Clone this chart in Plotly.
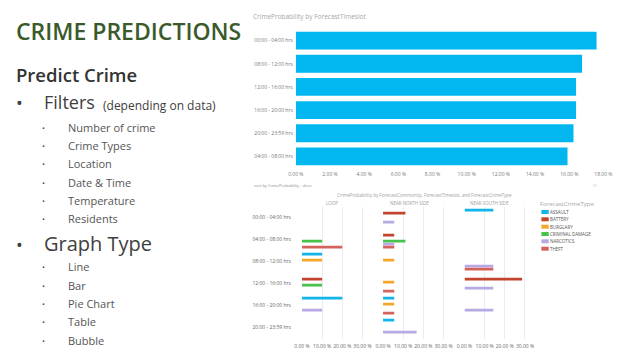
import plotly.graph_objects as go

W, H = 638, 359

def px(x):
    return x / W

def py(y):
    return 1 - y / H

# ---------------- data ----------------
top_slots = ["00:00 - 04:00 hrs", "08:00 - 12:00 hrs", "12:00 - 16:00 hrs",
             "16:00 - 20:00 hrs", "20:00 - 23:59 hrs", "04:00 - 08:00 hrs"]
top_values = [17.6, 16.75, 16.4, 16.4, 16.25, 15.9]
top_ticks = [0, 2, 4, 6, 8, 10, 12, 14, 16, 18]

slots = ["00:00 - 04:00 hrs", "04:00 - 08:00 hrs", "08:00 - 12:00 hrs",
         "12:00 - 16:00 hrs", "16:00 - 20:00 hrs", "20:00 - 23:59 hrs"]
crime_types = ["ASSAULT", "BATTERY", "BURGLARY", "CRIMINAL DAMAGE", "NARCOTICS", "THEFT"]
communities = ["LOOP", "NEAR NORTH SIDE", "NEAR SOUTH SIDE"]
bottom_ticks = [0, 10, 20, 30]

# values in %, rows = crime type, columns = time slot (None = no bar)
loop_values = {
    "ASSAULT":         [None, None, 10, None, 20, None],
    "BATTERY":         [None, None, None, 10, None, None],
    "BURGLARY":        [None, None, 10, None, None, None],
    "CRIMINAL DAMAGE": [None, 10, None, 10, None, None],
    "NARCOTICS":       [None, None, None, None, 10, None],
    "THEFT":           [None, 20, None, None, None, None],
}
nns_values = {
    "ASSAULT":         [None, None, None, None, 5.56, 5.56],
    "BATTERY":         [11.11, 5.56, None, None, None, None],
    "BURGLARY":        [None, None, 5.56, 5.56, 5.56, None],
    "CRIMINAL DAMAGE": [None, 11.11, None, None, None, None],
    "NARCOTICS":       [5.56, 5.56, None, None, None, 16.67],
    "THEFT":           [None, 5.56, None, 5.56, 5.56, None],
}
nss_values = {
    "ASSAULT":         [14.29, None, None, None, None, None],
    "BATTERY":         [None, None, None, 28.57, None, None],
    "BURGLARY":        [None, None, None, None, None, None],
    "CRIMINAL DAMAGE": [None, None, None, None, None, None],
    "NARCOTICS":       [None, None, 14.29, 14.29, 14.29, None],
    "THEFT":           [None, None, 14.29, None, None, None],
}
community_values = [loop_values, nns_values, nss_values]

colors = {
    "ASSAULT": "#11B5EC",
    "BATTERY": "#C4432C",
    "BURGLARY": "#F4A62A",
    "CRIMINAL DAMAGE": "#48C24A",
    "NARCOTICS": "#B7A9E4",
    "THEFT": "#D6625C",
}
TOP_COLOR = "#02B7EF"
FONT = "Open Sans"

fig = go.Figure()

# ---------------- top chart ----------------
fig.add_trace(go.Bar(
    x=top_values, y=top_slots, orientation="h", width=0.77,
    marker=dict(color=TOP_COLOR, line=dict(width=0)),
    xaxis="x", yaxis="y", showlegend=False,
))

# ---------------- bottom facets ----------------
axis_ids = [("x2", "y2"), ("x3", "y3"), ("x4", "y4")]
for (xa, ya), vals in zip(axis_ids, community_values):
    for ct in crime_types:
        fig.add_trace(go.Bar(
            x=vals[ct], y=slots, orientation="h", name=ct,
            marker=dict(color=colors[ct], line=dict(width=0)),
            xaxis=xa, yaxis=ya, showlegend=False,
        ))

tick_font = dict(family=FONT, size=5, color="#777777")

layout = dict(
    width=W, height=H, autosize=False,
    margin=dict(l=0, r=0, t=0, b=0),
    paper_bgcolor="white", plot_bgcolor="white",
    barmode="group", bargap=0.18, bargroupgap=0.1,
    font=dict(family=FONT),
    xaxis=dict(domain=[px(295.7), px(611.7)], range=[0, 18], anchor="y",
               tickvals=top_ticks, ticktext=[f"{v:.2f} %" for v in top_ticks],
               showgrid=False, zeroline=False, showline=False, ticks="",
               tickangle=0, tickfont=tick_font, ticklabelstandoff=2),
    yaxis=dict(domain=[py(168), py(29)], anchor="x", type="category",
               categoryorder="array", categoryarray=top_slots, autorange="reversed",
               showgrid=False, zeroline=False, showline=False, ticks="",
               tickfont=tick_font, ticklabelstandoff=2),
)

x_domains = [(302, 366.2), (385.3, 449.5), (469, 533.2)]
for i, ((xa, ya), (x0, x1)) in enumerate(zip(axis_ids, x_domains)):
    xkey = "xaxis" + xa[1:]
    ykey = "yaxis" + ya[1:]
    layout[xkey] = dict(domain=[px(x0), px(x1)], range=[0, 31], anchor=ya,
                        tickvals=bottom_ticks,
                        ticktext=[f"{v:.2f} %" for v in bottom_ticks],
                        showgrid=True, gridcolor="#ECECEC", gridwidth=1,
                        zeroline=True, zerolinecolor="white",
                        showline=False, ticks="", tickangle=0,
                        tickfont=dict(family=FONT, size=5, color="#666666"),
                        ticklabelstandoff=3)
    ydict = dict(domain=[py(338.7), py(206.7)], anchor=xa, type="category",
                 categoryorder="array", categoryarray=slots, autorange="reversed",
                 showgrid=False, zeroline=False, showline=False, ticks="",
                 tickfont=dict(family=FONT, size=5, color="#666666"),
                 ticklabelstandoff=10)
    if i > 0:
        ydict["matches"] = "y2"
        ydict["showticklabels"] = False
    layout[ykey] = ydict

fig.update_layout(**layout)

# ---------------- annotations ----------------
ann = []

def text(x, y, s, size, color, weight="normal", xanchor="left"):
    ann.append(dict(x=px(x), y=py(y), xref="paper", yref="paper", text=s,
                    showarrow=False, xanchor=xanchor, yanchor="middle",
                    font=dict(family=FONT, size=size, color=color, weight=weight)))

text(6, 31, "CRIME PREDICTIONS", 23, "#3A5A2B", weight=600)
text(6, 75, "Predict Crime", 18.5, "#333333", weight=600)

text(6, 103, "•", 18, "#404040")
text(35, 102, "Filters", 18, "#404040")
text(96, 105, "(depending on data)", 12, "#404040")
filters = ["Number of crime", "Crime Types", "Location", "Date & Time", "Temperature", "Residents"]
filter_y = [127, 145, 163, 182, 200, 218]
for s, y in zip(filters, filter_y):
    text(33, y, "•", 8, "#555555")
    text(60, y, s, 11, "#555555")

text(6, 245, "•", 18, "#404040")
text(35, 244, "Graph Type", 20, "#404040")
graphs = ["Line", "Bar", "Pie Chart", "Table", "Bubble"]
graph_y = [266, 285, 303, 321, 340]
for s, y in zip(graphs, graph_y):
    text(33, y, "•", 8, "#555555")
    text(60, y, s, 11, "#555555")

# chart titles
text(250, 17, "CrimeProbability by ForecastTimeslot", 6.5, "#A6A6A6")
text(251, 186, "sort by CrimeProbability ↓ desc", 4, "#8A8A8A")
text(428, 195, "CrimeProbability by ForecastCommunity, ForecastTimeslot, and ForecastCrimeType",
     4.5, "#A0A0A0", xanchor="center")
for name, cx in zip(communities, [333, 412, 495]):
    text(cx, 203, name, 4.5, "#A0A0A0", xanchor="center")
text(603, 186, "≡", 7, "#BBBBBB", xanchor="center")

# legend (drawn manually in paper space)
text(545, 204, "ForecastCrimeType", 6, "#A6A6A6")
legend_y = [212, 219.3, 226.7, 234, 241.3, 248.7]
shapes = []
for ct, y in zip(crime_types, legend_y):
    shapes.append(dict(type="rect", xref="paper", yref="paper",
                       x0=px(548), x1=px(555.5), y0=py(y + 2), y1=py(y - 2),
                       fillcolor=colors[ct], line=dict(width=0)))
    text(555, y, ct, 4.5, "#555555")

fig.update_layout(annotations=ann, shapes=shapes)

fig.write_html("out.html", config={"displayModeBar": False},
               post_script="document.body.style.margin='0';document.body.style.overflow='hidden';")
